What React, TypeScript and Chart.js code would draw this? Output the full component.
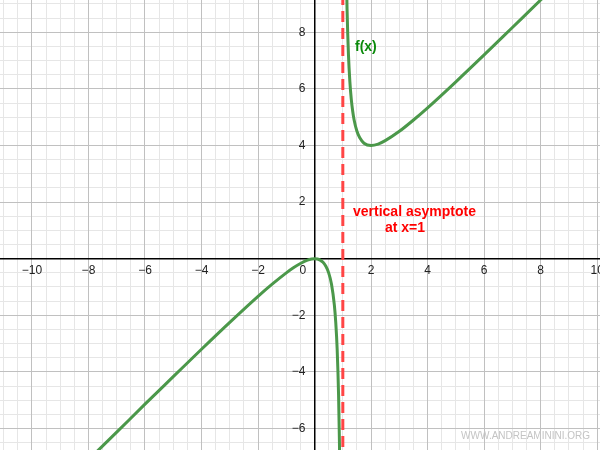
import React, { useEffect, useRef } from "react";
import { Chart, registerables } from "chart.js";

Chart.register(...registerables);

// View window (data units)
const X_MIN = -11.13;
const X_MAX = 10.1;
const Y_MIN = -6.76;
const Y_MAX = 9.14;

// Axis tick steps
const MAJOR_STEP = 2;
const MINOR_STEP = 0.5;

// f(x) left branch (x < 1)
const leftX = [-8, -7, -6, -5, -4, -3, -2, -1.5, -1, -0.75, -0.5, -0.25, -0.1, 0, 0.1, 0.2, 0.3, 0.4, 0.5, 0.6, 0.7, 0.75, 0.8, 0.85, 0.88, 0.9];
const leftY = [-7.11, -6.13, -5.14, -4.17, -3.2, -2.25, -1.33, -0.9, -0.5, -0.32, -0.17, -0.05, -0.01, 0, -0.01, -0.05, -0.13, -0.27, -0.5, -0.9, -1.63, -2.25, -3.2, -4.82, -6.45, -8.1];

// f(x) right branch (x > 1)
const rightX = [1.1, 1.12, 1.15, 1.2, 1.25, 1.3, 1.35, 1.4, 1.5, 1.6, 1.75, 2, 2.25, 2.5, 3, 3.5, 4, 5, 6, 7, 8, 9];
const rightY = [12.1, 10.45, 8.82, 7.2, 6.25, 5.63, 5.21, 4.9, 4.5, 4.27, 4.08, 4, 4.05, 4.17, 4.5, 4.9, 5.33, 6.25, 7.2, 8.17, 9.14, 10.13];

// Vertical asymptote x = 1
const asymptoteX = 1;
const asymptoteY = [9.35, -7];

// Annotation labels
const curveLabel = { text: "f(x)", x: 1.43, y: 7.47 };
const asymLabel1 = { text: "vertical asymptote", x: 1.36, y: 1.65 };
const asymLabel2 = { text: "at x=1", x: 2.49, y: 1.07 };
const watermark = "WWW.ANDREAMININI.ORG";

const FONT = "'Liberation Sans', Arial, sans-serif";
const GREEN = "#4b984a";
const RED = "#ff4545";

const toPts = (xs: number[], ys: number[]) => xs.map((x, i) => ({ x, y: ys[i] }));
const fmt = (v: number) => (v < 0 ? "\u2212" + Math.abs(v) : String(v));

const zeroPad = (scale: any) => {
  scale.paddingLeft = 0;
  scale.paddingRight = 0;
  scale.paddingTop = 0;
  scale.paddingBottom = 0;
};

const textPlugin = {
  id: "textPlugin",
  afterDraw(chart: any) {
    const { ctx, scales } = chart;
    const xs = scales.x;
    const ys = scales.y;
    ctx.save();
    ctx.textBaseline = "middle";
    ctx.textAlign = "left";
    ctx.font = `bold 14px ${FONT}`;
    ctx.fillStyle = "#0a8a0a";
    ctx.fillText(curveLabel.text, xs.getPixelForValue(curveLabel.x), ys.getPixelForValue(curveLabel.y));
    ctx.fillStyle = "#ff0000";
    ctx.fillText(asymLabel1.text, xs.getPixelForValue(asymLabel1.x), ys.getPixelForValue(asymLabel1.y));
    ctx.fillText(asymLabel2.text, xs.getPixelForValue(asymLabel2.x), ys.getPixelForValue(asymLabel2.y));
    ctx.font = `10px ${FONT}`;
    ctx.fillStyle = "#c4c4c4";
    ctx.textAlign = "right";
    ctx.fillText(watermark, chart.chartArea.right - 10, chart.chartArea.bottom - 14);
    ctx.restore();
  },
};

export default function App() {
  const ref = useRef<HTMLCanvasElement | null>(null);

  useEffect(() => {
    if (!ref.current) return;
    const chart = new Chart(ref.current, {
      type: "scatter",
      data: {
        datasets: [
          {
            label: "f(x) left",
            data: toPts(leftX, leftY),
            showLine: true,
            borderColor: GREEN,
            borderWidth: 3,
            pointRadius: 0,
            cubicInterpolationMode: "monotone",
            fill: false,
          },
          {
            label: "f(x) right",
            data: toPts(rightX, rightY),
            showLine: true,
            borderColor: GREEN,
            borderWidth: 3,
            pointRadius: 0,
            cubicInterpolationMode: "monotone",
            fill: false,
          },
          {
            label: "asymptote",
            data: asymptoteY.map((y) => ({ x: asymptoteX, y })),
            showLine: true,
            borderColor: RED,
            borderWidth: 3,
            borderDash: [11, 6],
            pointRadius: 0,
            fill: false,
          },
        ],
      },
      options: {
        responsive: false,
        animation: false,
        layout: { padding: 0 },
        plugins: { legend: { display: false }, tooltip: { enabled: false } },
        scales: {
          x2: {
            type: "linear",
            axis: "x",
            position: { y: 0 },
            min: X_MIN,
            max: X_MAX,
            grid: { color: "#e6e6e6", lineWidth: 1, drawTicks: false, z: -3 },
            border: { display: false },
            ticks: { display: false, stepSize: MINOR_STEP, includeBounds: false },
            afterFit: zeroPad,
          },
          y2: {
            type: "linear",
            axis: "y",
            position: { x: 0 },
            min: Y_MIN,
            max: Y_MAX,
            grid: { color: "#e6e6e6", lineWidth: 1, drawTicks: false, z: -3 },
            border: { display: false },
            ticks: { display: false, stepSize: MINOR_STEP, includeBounds: false },
            afterFit: zeroPad,
          },
          x: {
            type: "linear",
            axis: "x",
            position: { y: 0 },
            min: X_MIN,
            max: X_MAX,
            grid: { color: "#c0c0c0", lineWidth: 1, drawTicks: false, z: -1 },
            border: { display: true, color: "#000000", width: 1.5 },
            ticks: {
              stepSize: MAJOR_STEP,
              includeBounds: false,
              autoSkip: false,
              maxRotation: 0,
              padding: 5,
              color: "#222222",
              font: { family: FONT, size: 12 },
              callback: (v: any) => (Number(v) === 0 ? "0       " : fmt(Number(v))),
            },
            afterFit: zeroPad,
          },
          y: {
            type: "linear",
            axis: "y",
            position: { x: 0 },
            min: Y_MIN,
            max: Y_MAX,
            grid: { color: "#c0c0c0", lineWidth: 1, drawTicks: false, z: -1 },
            border: { display: true, color: "#000000", width: 1.5 },
            ticks: {
              stepSize: MAJOR_STEP,
              includeBounds: false,
              autoSkip: false,
              padding: 8,
              color: "#222222",
              font: { family: FONT, size: 12 },
              callback: (v: any) => (Number(v) === 0 ? "" : fmt(Number(v)) + "  \u2009"),
            },
            afterFit: zeroPad,
          },
        },
      },
      plugins: [textPlugin],
    } as any);
    return () => chart.destroy();
  }, []);

  return (
    <div style={{ position: "fixed", left: 0, top: 0, width: 600, height: 450, background: "#ffffff" }}>
      <canvas ref={ref} width={600} height={450} style={{ display: "block" }} />
    </div>
  );
}
